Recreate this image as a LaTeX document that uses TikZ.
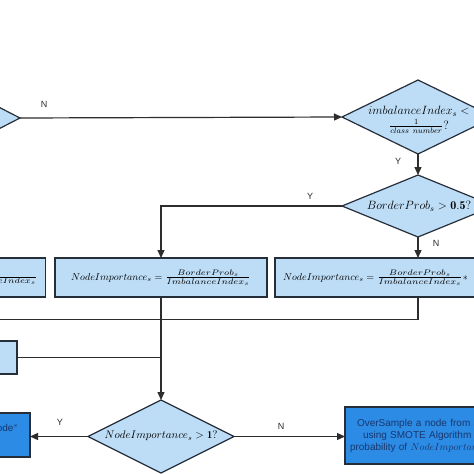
\documentclass[tikz,border=0pt]{standalone}
\usepackage{fontspec}
\setsansfont{Liberation Sans}
\usetikzlibrary{shapes.geometric,arrows.meta}
\definecolor{lightfill}{RGB}{189,221,247}
\definecolor{darkfill}{RGB}{44,139,228}
\definecolor{edgecol}{RGB}{38,46,58}
\definecolor{linecol}{RGB}{45,45,45}
\definecolor{navytext}{RGB}{25,55,110}
\newcommand{\myfrac}[2]{\scalebox{1.3}[1.15]{$\frac{#1}{#2}$}}
\begin{document}
\begin{tikzpicture}[x=1pt,y=-1pt,
  dec/.style={diamond, draw=edgecol, fill=lightfill, line width=1.2pt, inner sep=0pt, outer sep=0pt},
  box/.style={rectangle, draw=edgecol, fill=lightfill, line width=1.2pt, inner sep=0pt, outer sep=0pt},
  dbox/.style={box, fill=darkfill},
  conn/.style={draw=linecol, line width=1.2pt},
  arr/.style={conn, -{Triangle[length=8pt,width=7pt]}},
  lab/.style={font=\sffamily\fontsize{9}{10}\selectfont, text=linecol},
]
\useasboundingbox (0,0) rectangle (474,474);
\clip (0,0) rectangle (474,474);
\fill[white] (0,0) rectangle (474,474);

% decisions
\node[dec, minimum width=144pt, minimum height=74pt] (d0) at (-52,118) {};
\node[dec, minimum width=152pt, minimum height=74pt] (d1) at (418,117) {};
\node[font=\fontsize{11.5}{15}\selectfont, align=center] (t1) at (419,120)
  {$imbalanceIndex_s <$\\ $\frac{1}{class\ number}\mathbf{?}$};
\node[dec, minimum width=152pt, minimum height=62pt] (d2) at (418,206) {};
\node[font=\fontsize{12}{14}\selectfont] (t2) at (419,206) {$BorderProb_s > \mathbf{0.5?}$};
\node[dec, minimum width=146pt, minimum height=73pt] (d3) at (161,436.5) {};
\node[font=\fontsize{10.5}{12}\selectfont] (t3) at (161,436) {$NodeImportance_s > \mathbf{1?}$};

% process boxes
\node[box, anchor=east, minimum height=39pt, inner xsep=8pt] (boxA) at (45.5,277.5)
  {$NodeImportance_s = \myfrac{1}{ImbalanceIndex_s}$};
\node[box, minimum width=212pt, minimum height=39pt] (boxB) at (161,277.5)
  {$NodeImportance_s = \myfrac{BorderProb_s}{ImbalanceIndex_s}$};
\node[box, anchor=west, minimum height=39pt, text width=270pt, inner xsep=8pt, align=left] (boxC) at (275,277.5)
  {$NodeImportance_s = \myfrac{BorderProb_s}{ImbalanceIndex_s} \ast$};
\node[box, anchor=east, minimum width=70pt, minimum height=33pt] (boxD) at (17,357.5) {};
\node[dbox, anchor=east, minimum width=110pt, minimum height=44pt] (boxE) at (30,435) {};
\node[anchor=base east, inner sep=0pt, text=navytext, font=\sffamily\fontsize{10}{12}\selectfont] (tE) at (18,431) {node$^{s}$};
\node[dbox, anchor=west, minimum height=57pt, text width=250pt, inner xsep=5pt, align=left,
  text=navytext, font=\sffamily\fontsize{10}{12}\selectfont] (boxF) at (345,435.5)
  {\hspace*{7pt}OverSample a node from same class\\
   \hspace*{13pt}using SMOTE Algorithm with\\
   probability of $NodeImportance_s$};

% junctions
\coordinate (m1) at (161,319.5);
\coordinate (m2) at (161,357.5);

% connectors
\draw[arr] (d0.east) -- (d1.west);
\draw[arr] (d1.south) -- (d2.north);
\draw[arr] (d2.west) -| (boxB.north);
\draw[arr] (d2.south) -- (d2.south |- boxC.north);
\draw[conn] (boxA.south) |- (m1);
\draw[conn] (d2.south |- boxC.south) |- (m1);
\draw[arr] (boxB.south) -- (d3.north);
\draw[conn] (boxD.east) -- (m2);
\draw[arr] (d3.west) -- (d3.west -| boxE.east);
\draw[arr] (d3.east) -- (d3.east -| boxF.west);

% labels
\node[lab] (lN0) at (44,104) {N};
\node[lab] (lY1) at (398,161) {Y};
\node[lab] (lY2) at (310,196) {Y};
\node[lab] (lN2) at (436,243) {N};
\node[lab] (lY3) at (60,422) {Y};
\node[lab] (lN3) at (281,426) {N};
\end{tikzpicture}
\end{document}
